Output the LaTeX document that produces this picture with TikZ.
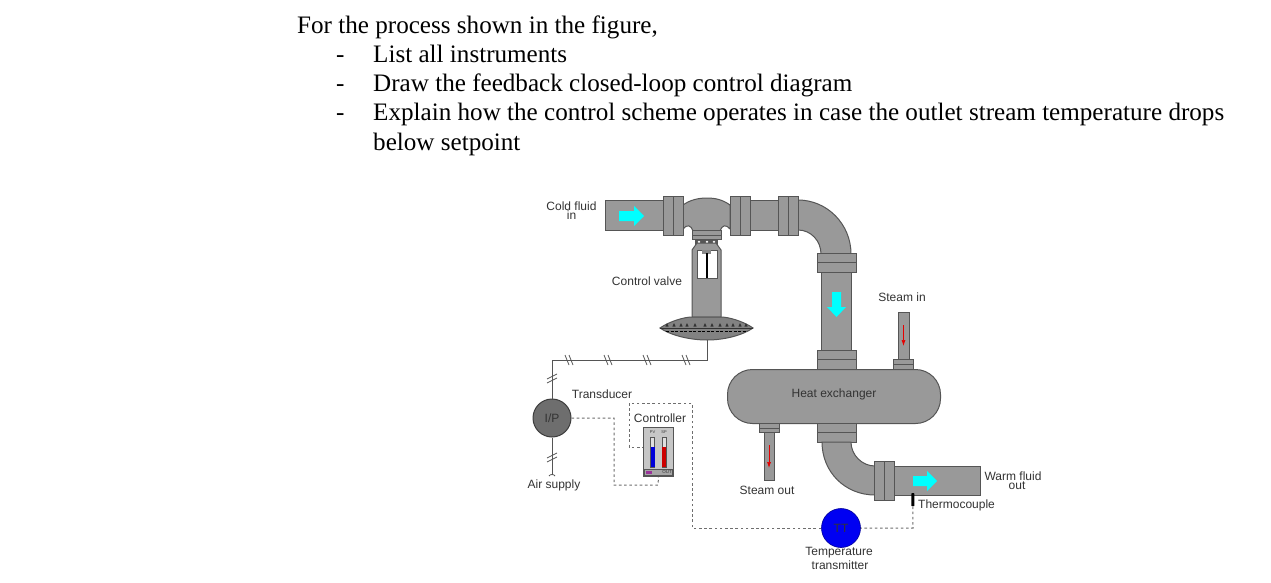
\documentclass[tikz,border=0pt]{standalone}
\usepackage{fontspec}
\setmainfont{Liberation Serif}
\newfontfamily\lab{Liberation Sans}
\definecolor{pipe}{HTML}{999999}
\definecolor{edge}{HTML}{555555}
\definecolor{flow}{HTML}{00FFFF}
\definecolor{txt}{HTML}{333333}
\tikzset{
 x=1pt,y=-1pt,
 body/.style={anchor=base west,inner sep=0,text=black,font=\fontsize{25.12}{25}\selectfont},
 lbl/.style={inner sep=0,text=txt,font=\lab\fontsize{12}{12}\selectfont},
 lbltight/.style={lbl,align=center,font=\lab\fontsize{12}{9.3}\selectfont},
 metal/.style={fill=pipe,draw=edge,line width=1pt},
 sig/.style={draw=edge!85!white,line width=1pt,dash pattern=on 2.6pt off 2.6pt},
 wire/.style={draw=edge,line width=1pt},
 flowarrow/.style={fill=flow,draw=none},
 steam/.style={draw=red!90!black,line width=.7pt,-{Latex[length=6pt,width=4pt]}},
}
\usetikzlibrary{arrows.meta}
\newcommand{\hflange}[3]{% xleft, ytop, xright; bolted flange lying across a vertical pipe
 \draw[metal] (#1,#2) rectangle (#3,#2+19.5);
 \draw[edge,line width=1pt] (#1,#2+9.7) -- (#3,#2+9.7);}
\newcommand{\vflange}[1]{% xleft: flange across a horizontal pipe
 \draw[metal] (#1,196) rectangle (#1+20,235);
 \draw[edge,line width=1pt] (#1+10,196) -- (#1+10,235);}
\newcommand{\hashes}[2]{% two short slashes across a horizontal line
 \draw[edge,line width=.8pt] (#1-5,#2-5) -- (#1-1,#2+5) (#1-1,#2-5) -- (#1+3,#2+5);}
\newcommand{\vhashes}[2]{%
 \draw[edge,line width=.8pt] (#1-5,#2+1) -- (#1+5,#2-4) (#1-5,#2+5) -- (#1+5,#2);}
\begin{document}
\begin{tikzpicture}
\useasboundingbox (0,0) rectangle (1271,583);
\fill[white] (0,0) rectangle (1271,583);
% question text
\node[body] (q0) at (297,34) {For the process shown in the figure,};
\node[body] (d1) at (336,63) {-};
\node[body] (q1) at (373,63) {List all instruments};
\node[body] (d2) at (336,92) {-};
\node[body] (q2) at (373,92) {Draw the feedback closed-loop control diagram};
\node[body] (d3) at (336,121) {-};
\node[body] (q3) at (373,121) {Explain how the control scheme operates in case the outlet stream temperature drops};
\node[body] (q4) at (373,150) {below setpoint};
% inlet and top pipes
\draw[metal] (605,200) rectangle (664,230);
\draw[metal] (750,200) rectangle (779,230);
% elbow top right
\draw[metal] (798,200) .. controls (827,200) and (851,224) .. (851,254) -- (821,254) .. controls (821,241) and (811,230) .. (798,230) -- cycle;
% vertical pipe
\draw[metal] (821,272) rectangle (851,351);
% valve body
\draw[metal] (683,205) .. controls (690,200) and (698,198) .. (707,198) .. controls (716,198) and (723,200) .. (730,205) -- (730,229) .. controls (726,224) and (722,225) .. (720,231) -- (693,231) .. controls (691,225) and (687,224) .. (683,229) -- cycle;
\vflange{663}\vflange{730}\vflange{778}
\hflange{817}{253}{856}
\hflange{817}{350}{856}
% valve bonnet and yoke
\draw[metal] (692,230) rectangle (721,239);
\draw[edge,line width=1pt] (692,235) -- (721,235);
\fill[edge] (695,239) rectangle (718,245);
\foreach \x in {699,707,714}{\fill[white] (\x,242) circle (1.3);}
\draw[metal] (692,317) -- (692,250) -- (697,243) -- (716,243) -- (721,250) -- (721,317) -- cycle;
\draw[fill=white,draw=edge,line width=.8pt] (697,250) rectangle (717,278);
\fill[edge!70] (702,250) rectangle (711,254);
\fill[black] (705.5,253) rectangle (707.5,278);
% diaphragm
\draw[fill=pipe!85!black,draw=edge,line width=1pt] (660,328) .. controls (670,321) and (685,317) .. (692,317) -- (721,317) .. controls (728,317) and (743,321) .. (753,328) .. controls (743,335) and (725,340) .. (707,340) .. controls (689,340) and (670,335) .. (660,328) -- cycle;
\draw[edge!60!black,line width=1pt] (660,328) -- (753,328);
\draw[black,line width=1pt,dash pattern=on 3pt off 1.5pt] (666,331) -- (747,331);
\foreach \x in {667,674,681,687,695,705,712,720,727,733,740,746}{\fill[edge!60!black] (\x-1.6,326.5) -- (\x,323) -- (\x+1.6,326.5) -- cycle;}
% heat exchanger
\node[metal,minimum width=213pt,minimum height=54pt,rounded corners=25pt,inner sep=0,anchor=north west] (hx) at (727,369) {};
\node[lbl] (hxl) at (834,394.5) {Heat exchanger};
\hflange{817}{423}{856}
% lower elbow
\draw[metal] (822,442) .. controls (822,472) and (845,495) .. (875,495) -- (875,466) .. controls (862,466) and (851,455) .. (851,442) -- cycle;
\draw[metal] (893,466) rectangle (980,495);
\draw[metal] (874,461) rectangle (894,500);
\draw[edge,line width=1pt] (884,461) -- (884,500);
% steam lines
\draw[metal] (898,312) rectangle (909,360);
\draw[metal] (893,359) rectangle (913,369);
\draw[edge,line width=1pt] (893,364) -- (913,364);
\coordinate (si1) at (903.5,325); \coordinate (si2) at (903.5,346);
\draw[steam] (si1) -- (si2);
\draw[metal] (764,432) rectangle (774,480);
\draw[metal] (759,423) rectangle (779,432);
\draw[edge,line width=1pt] (759,428) -- (779,428);
\coordinate (so1) at (769,445); \coordinate (so2) at (769,468);
\draw[steam] (so1) -- (so2);
% flow arrows
\fill[flowarrow] (619,211) -- (634,211) -- (634,206) -- (644,216) -- (634,226) -- (634,221) -- (619,221) -- cycle;
\fill[flowarrow] (832,292) -- (841,292) -- (841,307) -- (846,307) -- (836.5,317) -- (827,307) -- (832,307) -- cycle;
\fill[flowarrow] (913,476) -- (927,476) -- (927,471) -- (937,481) -- (927,491) -- (927,486) -- (913,486) -- cycle;
% thermocouple
\node[fill=black,minimum width=3pt,minimum height=13pt,inner sep=0,anchor=north,rounded corners=.5pt] (tc) at (912.8,493) {};
% transducer, transmitter
\node[circle,fill=edge!85!white,draw=edge!70!black,line width=1pt,minimum size=38pt,inner sep=0,text=txt,font=\lab\fontsize{12}{12}\selectfont] (ip) at (552,418) {I/P};
\node[circle,fill=blue!95!black,draw=blue!60!black,line width=.6pt,minimum size=39pt,inner sep=0,text=txt,font=\lab\fontsize{12}{12}\selectfont] (tt) at (841,528) {TT};
% controller
\node[fill=gray!45,draw=edge,line width=1pt,minimum width=30pt,minimum height=49pt,inner sep=0,anchor=north west] (ctl) at (643,427) {};
\fill[white!75!gray,draw=edge,line width=.5pt] (650.5,437) rectangle (654.5,467);
\fill[blue!85!black] (650.5,447) rectangle (654.5,467);
\fill[white!75!gray,draw=edge,line width=.5pt] (662,437) rectangle (666,467);
\fill[red!80!black] (662,447) rectangle (666,467);
\node[inner sep=0,text=txt,font=\lab\fontsize{4}{4}\selectfont] (pv) at (652.5,432.5) {PV};
\node[inner sep=0,text=txt,font=\lab\fontsize{4}{4}\selectfont] (sp) at (664,432.5) {SP};
\draw[edge,fill=gray!70,line width=.6pt] (644,469) rectangle (672,475);
\fill[violet!80!white] (646,470.5) rectangle (652,473.5);
\node[inner sep=0,text=txt,font=\lab\fontsize{4.5}{4.5}\selectfont] (outl) at (667,472) {OUT};
% signals
\coordinate (dia) at (707,340);
\draw[wire] (dia) -- (707,360) -- (552,360) -- (ip.north);
\hashes{570}{360}\hashes{609}{360}\hashes{648}{360}\hashes{687}{360}
\vhashes{552}{378}\vhashes{552}{457}
\coordinate (air) at (552,475);
\draw[wire] (ip.south) -- (air);
\draw[edge,line width=.8pt] (549,476) .. controls (550,474) and (554,474) .. (555,476);
\coordinate (s1) at (614,418); \coordinate (s2) at (614,485); \coordinate (s3) at (658,485);
\draw[sig] (ip.east) -- (s1) -- (s2) -- (s3) -- (ctl.south);
\coordinate (s4) at (692,528); \coordinate (s5) at (692,403); \coordinate (s6) at (629,403); \coordinate (s7) at (629,447);
\draw[sig] (tt.west) -- (s4) -- (s5) -- (s6) -- (s7) -- (s7 -| ctl.west);
\coordinate (s8) at (913,528);
\draw[sig] (tc.south) -- (s8) -- (tt.east);
% labels
\node[lbltight] (a) at (571.5,211) {Cold fluid\\in};
\node[lbl] (c) at (647,281.5) {Control valve};
\node[lbl] (e) at (902,297.5) {Steam in};
\node[lbl] (f) at (602,394.5) {Transducer};
\node[lbl] (g) at (660,418.5) {Controller};
\node[lbl] (h) at (554,485.5) {Air supply};
\node[lbl] (i) at (767,490.5) {Steam out};
\node[lbltight] (j) at (1013,481) {Warm fluid\\\hspace*{8pt}out};
\node[lbl,anchor=west] (l) at (918,505.5) {Thermocouple};
\node[lbl] (m) at (839,553) {Temperature};
\node[lbl] (n) at (840,565) {transmitter};
\end{tikzpicture}
\end{document}
